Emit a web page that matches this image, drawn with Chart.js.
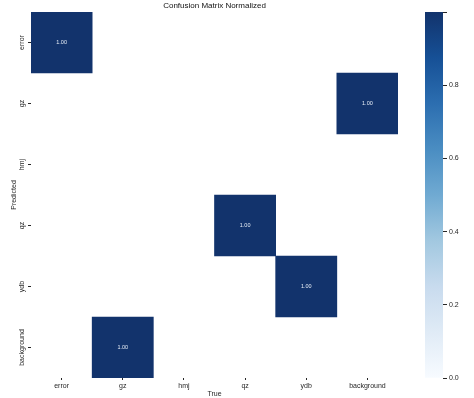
<!DOCTYPE html>
<html>
<head>
<meta charset="utf-8">
<script src="https://cdn.jsdelivr.net/npm/chart.js@4.4.1/dist/chart.umd.min.js"></script>
<style>
	html, body { margin: 0; padding: 0; background: #fff; }
	#wrap { position: relative; width: 474px; height: 398px; }
	#matrix { position: absolute; left: 0; top: 0; }
	#colorbar { position: absolute; left: 400px; top: 0; }
</style>
</head>
<body>
<div id="wrap">
	<canvas id="matrix" width="474" height="398"></canvas>
	<canvas id="colorbar" width="74" height="398"></canvas>
</div>
<script>
// rows = predicted, columns = true
const categories = ["error", "gz", "hmj", "qz", "ydb", "background"];
const rowError = [1, 0, 0, 0, 0, 0];
const rowGz = [0, 0, 0, 0, 0, 1];
const rowHmj = [0, 0, 0, 0, 0, 0];
const rowQz = [0, 0, 0, 1, 0, 0];
const rowYdb = [0, 0, 0, 0, 1, 0];
const rowBackground = [0, 1, 0, 0, 0, 0];
const colorbarTicks = [0, 0.2, 0.4, 0.6, 0.8, 1.0];

const rows = [rowError, rowGz, rowHmj, rowQz, rowYdb, rowBackground];

// "Blues", slightly muted like the reference render
const blues = [
	[247, 251, 255],
	[224, 235, 246],
	[200, 219, 238],
	[162, 200, 224],
	[112, 170, 210],
	[74, 141, 194],
	[44, 110, 176],
	[22, 80, 150],
	[18, 51, 108]
];

function bluesColor (t) {
	t = Math.max(0, Math.min(1, t));
	const pos = t * (blues.length - 1);
	const i = Math.min(Math.floor(pos), blues.length - 2);
	const f = pos - i;
	const c = blues[i].map((v, k) => Math.round(v + (blues[i + 1][k] - v) * f));
	return `rgb(${c[0]}, ${c[1]}, ${c[2]})`;
}

const FONT = "'Liberation Sans', Arial, sans-serif";
const TEXT = "#262626";
Chart.defaults.font.family = FONT;
Chart.defaults.color = TEXT;
Chart.defaults.animation = false;

const datasets = rows.map((row, r) => ({
	label: categories[r],
	data: row.map((v) => (v > 0.005 ? [r, r + 1] : null)),
	values: row,
	backgroundColor: row.map((v) => bluesColor(v)),
	borderWidth: 0,
	barPercentage: 1,
	categoryPercentage: 1
}));

// seaborn-style annotations inside the cells
const annotate = {
	id: "annotate",
	afterDatasetsDraw (chart) {
		const ctx = chart.ctx;
		ctx.save();
		ctx.font = `5.5px ${FONT}`;
		ctx.fillStyle = "#e6edf6";
		ctx.textAlign = "center";
		ctx.textBaseline = "middle";
		chart.data.datasets.forEach((ds, i) => {
			chart.getDatasetMeta(i).data.forEach((bar, j) => {
				if (ds.data[j] === null) {
					return;
				}
				const { x, y, base } = bar.getProps(["x", "y", "base"], true);
				ctx.fillText(ds.values[j].toFixed(2), x, (y + base) / 2);
			});
		});
		ctx.restore();
	}
};

// rotated y tick labels, drawn on the y scale positions
const rotatedYLabels = {
	id: "rotatedYLabels",
	afterDraw (chart) {
		const ctx = chart.ctx;
		const yScale = chart.scales.y;
		ctx.save();
		ctx.font = `7px ${FONT}`;
		ctx.fillStyle = TEXT;
		ctx.textAlign = "center";
		ctx.textBaseline = "middle";
		categories.forEach((c, i) => {
			const y = yScale.getPixelForValue(i + 0.5);
			ctx.save();
			ctx.translate(yScale.right - 8.5, y);
			ctx.rotate(-Math.PI / 2);
			ctx.fillText(c, 0, 0);
			ctx.restore();
		});
		ctx.restore();
	}
};

new Chart(document.getElementById("matrix"), {
	type: "bar",
	data: {
		labels: categories,
		datasets: datasets
	},
	options: {
		responsive: false,
		layout: { padding: { left: 0, right: 76, top: 0, bottom: 0 } },
		plugins: {
			legend: { display: false },
			tooltip: { enabled: false },
			title: {
				display: true,
				text: "Confusion Matrix Normalized",
				fullSize: false,
				font: { size: 8, weight: "normal" },
				color: "#111",
				padding: { top: 1, bottom: 1.4 }
			}
		},
		scales: {
			x: {
				type: "category",
				stacked: true,
				offset: true,
				border: { display: false },
				grid: { offset: false, drawOnChartArea: false, tickLength: 2, tickColor: TEXT },
				ticks: { font: { size: 7 }, padding: 2, color: TEXT, maxRotation: 0 },
				title: { display: true, text: "True", font: { size: 7 }, color: TEXT, padding: { top: 0, bottom: 0 } },
				afterFit (scale) { scale.height = 20; }
			},
			y: {
				type: "linear",
				reverse: true,
				min: 0,
				max: 6,
				border: { display: false },
				grid: { drawOnChartArea: false, tickLength: 3, tickColor: TEXT },
				ticks: { display: false },
				title: { display: true, text: "Predicted", font: { size: 7 }, color: TEXT, padding: { top: 10, bottom: 0 } },
				afterBuildTicks (scale) {
					scale.ticks = categories.map((c, i) => ({ value: i + 0.5 }));
				},
				afterFit (scale) { scale.width = 31; }
			}
		}
	},
	plugins: [annotate, rotatedYLabels]
});

// colour bar
new Chart(document.getElementById("colorbar"), {
	type: "bar",
	data: {
		labels: ["scale"],
		datasets: [{
			data: [[colorbarTicks[0], colorbarTicks[colorbarTicks.length - 1]]],
			borderWidth: 0,
			barPercentage: 1,
			categoryPercentage: 1,
			backgroundColor (context) {
				const { chart } = context;
				if (!chart.chartArea) {
					return bluesColor(0.5);
				}
				const yScale = chart.scales.y;
				const g = chart.ctx.createLinearGradient(0, yScale.getPixelForValue(0), 0, yScale.getPixelForValue(1));
				blues.forEach((c, i) => g.addColorStop(i / (blues.length - 1), `rgb(${c[0]}, ${c[1]}, ${c[2]})`));
				return g;
			}
		}]
	},
	options: {
		responsive: false,
		layout: { padding: { left: 25, right: 0, top: 12, bottom: 20 } },
		plugins: {
			legend: { display: false },
			tooltip: { enabled: false }
		},
		scales: {
			x: { display: false },
			y: {
				position: "right",
				min: 0,
				max: 1,
				border: { display: false },
				grid: { drawOnChartArea: false, tickLength: 4, tickColor: TEXT },
				ticks: {
					font: { size: 7 },
					color: TEXT,
					padding: 2,
					callback: (v) => (v >= 1 ? "" : v.toFixed(1))
				},
				afterBuildTicks (scale) {
					scale.ticks = colorbarTicks.map((v) => ({ value: v }));
				},
				afterFit (scale) { scale.width = 31; }
			}
		}
	}
});
</script>
</body>
</html>
